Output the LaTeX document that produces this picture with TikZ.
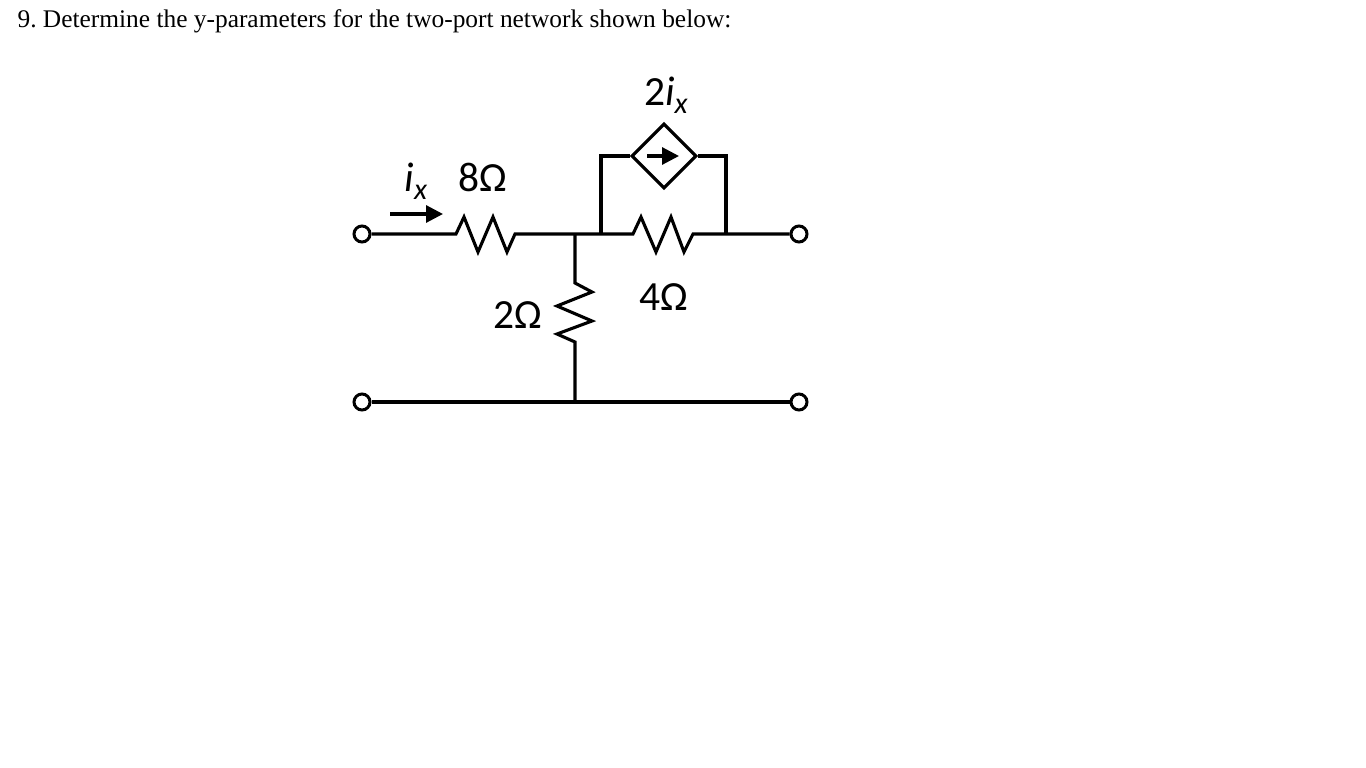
\documentclass[tikz,border=0pt]{standalone}
\usepackage{fontspec}
\setmainfont{Liberation Serif}
\newfontfamily\labelfont{Carlito}
\usetikzlibrary{arrows.meta,positioning,calc,shapes.geometric}
\newcommand{\subx}{\raisebox{-0.2em}{\fontsize{30}{30}\selectfont\textit{x}}}

\begin{document}
\frenchspacing
\begin{tikzpicture}[x=1pt, y=-1pt, >={Triangle[length=17pt,width=17pt]}, line width=3.1pt, line join=miter]
	\tikzstyle{terminal}=[circle,draw=black,fill=white,line width=3pt,inner sep=0pt,minimum size=16pt]
	\tikzstyle{value}=[inner sep=0pt,text=black,font=\labelfont\fontsize{41.5}{44}\selectfont]
	\tikzstyle{source}=[diamond,draw=black,fill=white,inner sep=0pt,minimum width=65pt,minimum height=65pt]
	\useasboundingbox (0,0) rectangle (1366,768);

	\node[anchor=base west,inner sep=0pt,font=\fontsize{25.4}{28}\selectfont] (T) at (16,28)
		{9. Determine the y-parameters for the two-port network shown below:};

	\node[terminal] (A) at (362,234) {};
	\node[terminal] (B) at (799,234) {};
	\node[terminal] (C) at (362,402) {};
	\node[terminal] (D) at (799,402) {};
	\node[source]   (S) at (664,156) {};

	\coordinate (R1a) at (456,234);
	\coordinate (R1b) at (515,234);
	\coordinate (J1)  at (575,234);
	\coordinate (J2)  at (601,234);
	\coordinate (R2a) at (633,234);
	\coordinate (R2b) at (693,234);
	\coordinate (J3)  at (726,234);
	\coordinate (R3a) at (575,283);
	\coordinate (R3b) at (575,342);
	\coordinate (J4)  at (575,402);
	\coordinate (Ia)  at (390,214);
	\coordinate (Ib)  at (443,214);
	\coordinate (Sa)  at (647,156);
	\coordinate (Sb)  at (679,156);

	% top rail with the two series resistors
	\draw (A) -- (R1a) -- ++(8,-17) -- ++(14,35) -- ++(15,-35) -- ++(14,35) -- (R1b) -- (J1) -- (J2)
		-- (R2a) -- ++(8,-17) -- ++(15,35) -- ++(15,-35) -- ++(13,35) -- (R2b) -- (J3) -- (B);

	% shunt resistor
	\draw (J1) -- (R3a) -- ++(17,9) -- ++(-35,14) -- ++(35,15) -- ++(-35,13) -- (R3b) -- (J4);

	% bottom rail and source branch
	\draw (C) -- (J4) -- (D);
	\draw (J2) |- (S.west);
	\draw (J3) |- (S.east);

	% arrows
	\draw[->] (Ia) -- (Ib);
	\draw[->] (Sa) -- (Sb);

	% labels
	\node[value] (Lx) at (416,181) {\textit{i}\subx};
	\node[value] (L8) at (483,177) {8Ω};
	\node[value] (L2) at (518,315) {2Ω};
	\node[value] (L4) at (664,297) {4Ω};
	\node[value] (LS) at (666,95) {2\textit{i}\subx};
\end{tikzpicture}
\end{document}
